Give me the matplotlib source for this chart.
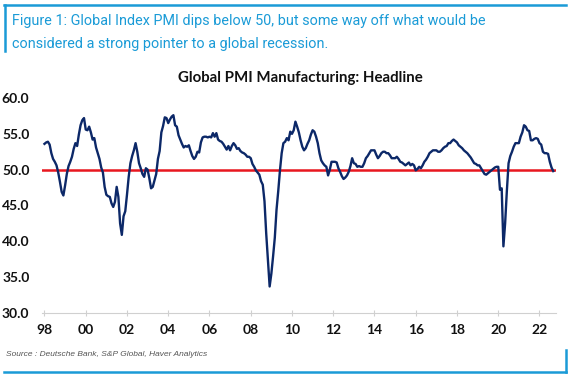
import numpy as np
import matplotlib.pyplot as plt
from matplotlib.lines import Line2D

# monthly Global PMI Manufacturing, Jan 1998 - Sep 2022
pmi_1998_2002 = [
    53.6, 53.8, 53.9, 53.5, 52.3, 51.5, 51.1, 50.6, 49.6, 48.3, 46.9, 46.4,
    47.8, 49.4, 50.5, 51.1, 51.8, 52.9, 53.7, 53.3, 54.9, 56.2, 56.9, 57.2,
    55.6, 55.5, 56.0, 55.2, 54.2, 54.4, 53.1, 52.3, 51.5, 50.3, 49.6, 47.6,
    46.5, 46.3, 46.2, 45.3, 44.8, 45.5, 47.6, 46.2, 42.5, 40.9, 43.5, 44.2,
    46.5, 49.0, 50.9, 51.9, 52.7, 53.7, 52.5, 50.9, 50.2, 49.4, 49.0, 50.2,
]
pmi_2003_2007 = [
    50.0, 48.8, 47.4, 47.6, 48.5, 49.4, 51.5, 52.6, 55.2, 56.1, 57.3, 57.2,
    56.5, 57.0, 57.4, 57.6, 56.2, 56.0, 54.8, 54.2, 53.6, 53.1, 53.3, 53.2,
    53.4, 52.6, 51.9, 51.5, 51.8, 52.5, 52.4, 53.8, 54.5, 54.6, 54.6, 54.5,
    54.6, 54.5, 55.1, 54.6, 55.1, 54.2, 54.0, 53.9, 53.6, 53.2, 52.8, 53.3,
    52.7, 53.3, 53.7, 53.4, 52.9, 53.0, 52.6, 52.4, 52.3, 52.1, 51.8, 51.8,
]
pmi_2008_2012 = [
    51.6, 50.8, 50.4, 49.9, 49.6, 49.3, 48.4, 47.9, 45.6, 41.1, 37.4, 33.7,
    35.5, 37.9, 40.5, 44.4, 47.0, 49.9, 52.3, 53.7, 53.9, 54.4, 54.1, 55.3,
    55.0, 55.5, 56.7, 56.0, 55.2, 54.1, 53.2, 52.7, 53.0, 53.6, 54.1, 54.9,
    55.5, 55.3, 54.6, 53.7, 52.3, 51.3, 50.9, 50.6, 50.4, 49.2, 50.0, 51.1,
    51.1, 51.1, 51.0, 50.2, 49.7, 49.1, 48.7, 48.9, 49.2, 49.7, 50.5, 51.6,
]
pmi_2013_2017 = [
    50.9, 50.8, 50.4, 50.5, 50.4, 50.4, 50.9, 51.6, 51.9, 52.3, 52.7, 52.7,
    52.7, 52.1, 51.6, 51.9, 52.3, 52.5, 52.5, 52.3, 52.3, 52.0, 51.6, 51.6,
    51.6, 51.8, 51.5, 51.1, 51.0, 50.8, 50.6, 50.8, 51.0, 50.6, 50.8, 50.6,
    49.9, 50.1, 50.4, 50.2, 50.6, 51.1, 51.4, 51.8, 52.3, 52.5, 52.7, 52.7,
    52.7, 52.5, 52.5, 52.7, 53.0, 53.2, 53.3, 53.7, 53.7, 54.0, 54.2, 54.0,
]
pmi_2018_2022 = [
    53.8, 53.4, 53.2, 53.0, 52.7, 52.5, 52.3, 52.0, 51.7, 51.3, 50.9, 50.8,
    50.6, 50.6, 50.2, 49.8, 49.4, 49.3, 49.5, 49.7, 49.9, 50.1, 50.3, 50.4,
    50.4, 47.2, 47.4, 39.3, 42.5, 47.0, 50.9, 51.9, 52.5, 53.2, 53.7, 53.7,
    53.7, 54.6, 55.2, 56.2, 56.0, 55.5, 55.4, 54.1, 54.1, 54.3, 54.4, 54.3,
    53.7, 53.5, 52.5, 52.3, 52.3, 52.2, 51.1, 50.3, 49.8,
]
pmi = pmi_1998_2002 + pmi_2003_2007 + pmi_2008_2012 + pmi_2013_2017 + pmi_2018_2022
months = 1998 + np.arange(len(pmi)) / 12

tick_years = list(range(1998, 2023, 2))
tick_labels = ['%02d' % (y % 100) for y in tick_years]
y_ticks = [30, 35, 40, 45, 50, 55, 60]

blue = '#1a9bd7'
navy = '#0c2868'

fig = plt.figure(figsize=(5.7, 3.75), dpi=100)
ax = fig.add_axes([42/570, 1 - 313/375, (556 - 42)/570, (313 - 98)/375])

ax.plot(months, pmi, color=navy, lw=1.7, zorder=3)
ax.axhline(50, color='#e8171f', lw=1.8, zorder=2)

ax.set_xlim(1997.88, 2022.8)
ax.set_ylim(30, 60)
ax.set_xticks(tick_years)
ax.set_xticklabels(tick_labels)
ax.set_yticks(y_ticks)
ax.set_yticklabels(['%.1f' % v for v in y_ticks])

for s in ['top', 'right', 'left']:
    ax.spines[s].set_visible(False)
ax.spines['bottom'].set_color('#d0d0d0')
ax.spines['bottom'].set_linewidth(0.8)
ax.tick_params(axis='x', direction='inout', length=4, width=0.8, color='#d0d0d0', pad=6)
ax.tick_params(axis='y', length=0, pad=9)
for lab in ax.get_xticklabels() + ax.get_yticklabels():
    lab.set_fontfamily('Lato')
    lab.set_fontweight('bold')
    lab.set_fontsize(10)
    lab.set_color('#111111')

fig.text(300/570, 1 - 78/375, 'Global PMI Manufacturing: Headline', ha='center', va='center',
         family='Lato', weight='bold', fontsize=10.8, color='#111111')

fig.text(12/570, 1 - 21/375, 'Figure 1: Global Index PMI dips below 50, but some way off what would be',
         ha='left', va='center', family='Roboto', fontsize=10.4, color=blue)
fig.text(12/570, 1 - 44/375, 'considered a strong pointer to a global recession.',
         ha='left', va='center', family='Roboto', fontsize=10.4, color=blue)

fig.text(6/570, 1 - 355/375, 'Source : Deutsche Bank, S&P Global, Haver Analytics', ha='left', va='center',
         family='Liberation Sans', style='italic', fontsize=6, color='#555555')

# frame lines in the figure
def fline(x0, y0, x1, y1):
    fig.add_artist(Line2D([x0/570, x1/570], [1 - y0/375, 1 - y1/375], color=blue, lw=1.8,
                          transform=fig.transFigure))

fline(4, 5, 566, 5)
fline(5, 5, 5, 51)
fline(4, 372, 566, 372)
fline(566, 350, 566, 372)

fig.savefig('out.png', dpi=100)
